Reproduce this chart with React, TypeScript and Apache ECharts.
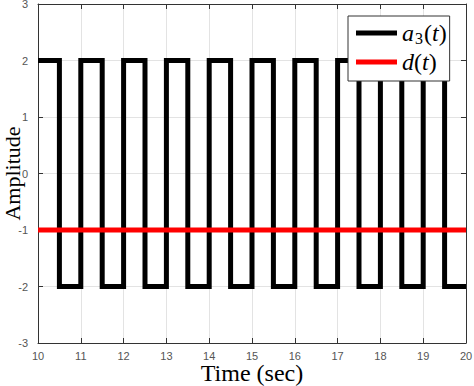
import React, { useEffect, useRef } from "react";
import * as echarts from "echarts";

// Square wave a3(t): switching instants and the level held from each instant
const a3Times = [10, 10.5, 11, 11.5, 12, 12.5, 13, 13.5, 14, 14.5, 15, 15.5, 16, 16.5, 17, 17.5, 18, 18.5, 19, 19.5, 20];
const a3Levels = [2, -2, 2, -2, 2, -2, 2, -2, 2, -2, 2, -2, 2, -2, 2, -2, 2, -2, 2, -2, -2];
// Constant d(t)
const dTimes = [10, 20];
const dLevels = [-1, -1];

const xTicks = [10, 11, 12, 13, 14, 15, 16, 17, 18, 19, 20];
const yTicks = [-3, -2, -1, 0, 1, 2, 3];

const serif = "Liberation Serif";
const sans = "Liberation Sans";

export default function App() {
  const ref = useRef<HTMLDivElement>(null);
  useEffect(() => {
    if (!ref.current) return;
    const chart = echarts.init(ref.current, null, { renderer: "svg" });
    const a3Data = a3Times.map((t, i) => [t, a3Levels[i]]);
    const dData = dTimes.map((t, i) => [t, dLevels[i]]);
    const axisColor = "#333333";
    const labelColor = "#555555";
    const gridColor = "#e3e3e3";
    const xMin = xTicks[0];
    const xMax = xTicks[xTicks.length - 1];
    const yMin = yTicks[0];
    const yMax = yTicks[yTicks.length - 1];
    const common = {
      axisLine: { show: true, onZero: false, lineStyle: { color: axisColor, width: 1 } },
      axisTick: { show: true, inside: true, length: 5, lineStyle: { color: axisColor } },
    };
    const fs = 24;
    chart.setOption({
      animation: false,
      backgroundColor: "#ffffff",
      grid: { left: 38, right: 8, top: 4, bottom: 43, containLabel: false, outerBoundsMode: "none" },
      xAxis: [
        {
          type: "value",
          min: xMin,
          max: xMax,
          interval: 1,
          ...common,
          axisLabel: { color: labelColor, fontSize: 11, lineHeight: 11, fontFamily: sans, margin: 7 },
          splitLine: { show: true, lineStyle: { color: gridColor, width: 1 } },
          name: "Time (sec)",
          nameLocation: "middle",
          nameGap: 19,
          nameMoveOverlap: false,
          nameTextStyle: { color: "#000", fontSize: 24, lineHeight: 22, fontFamily: serif, verticalAlign: "top" },
        },
        {
          type: "value",
          position: "top",
          min: xMin,
          max: xMax,
          interval: 1,
          ...common,
          axisLabel: { show: false },
          splitLine: { show: false },
        },
      ],
      yAxis: [
        {
          type: "value",
          min: yMin,
          max: yMax,
          interval: 1,
          ...common,
          axisLabel: { color: labelColor, fontSize: 11, fontFamily: sans, margin: 10 },
          splitLine: { show: true, lineStyle: { color: gridColor, width: 1 } },
          name: "Amplitude",
          nameLocation: "middle",
          nameGap: 16,
          nameMoveOverlap: false,
          nameTextStyle: { color: "#000", fontSize: 22, lineHeight: 20, fontFamily: serif },
        },
        {
          type: "value",
          position: "right",
          min: yMin,
          max: yMax,
          interval: 1,
          ...common,
          axisLabel: { show: false },
          splitLine: { show: false },
        },
      ],
      legend: {
        show: true,
        orient: "vertical",
        left: 348,
        top: 16,
        padding: [4, 3, 6, 8],
        itemGap: 3,
        itemWidth: 41,
        itemHeight: 5,
        icon: "rect",
        backgroundColor: "#ffffff",
        borderColor: "#333333",
        borderWidth: 1,
        borderRadius: 0,
        data: ["a3", "d"],
        formatter: (name: string) =>
          name === "a3" ? "{i|a}{s|3}{n|(}{i|t}{n|)}" : "{i|d}{n|(}{i|t}{n|)}",
        textStyle: {
          color: "#000",
          fontFamily: serif,
          fontSize: fs,
          lineHeight: 26,
          rich: {
            i: { fontStyle: "italic", fontFamily: serif, fontSize: fs, color: "#000", lineHeight: 26, verticalAlign: "middle" },
            n: { fontFamily: serif, fontSize: fs, color: "#000", lineHeight: 26, verticalAlign: "middle" },
            s: { fontFamily: serif, fontSize: 16, color: "#000", lineHeight: 26, verticalAlign: "bottom", padding: [0, 1, 0, 1] },
          },
        },
      },
      series: [
        {
          name: "a3",
          type: "line",
          step: "end",
          data: a3Data,
          showSymbol: false,
          symbol: "none",
          lineStyle: { color: "#000000", width: 5, join: "miter", cap: "butt" },
          itemStyle: { color: "#000000" },
          z: 2,
        },
        {
          name: "d",
          type: "line",
          data: dData,
          showSymbol: false,
          symbol: "none",
          lineStyle: { color: "#ff0000", width: 5 },
          itemStyle: { color: "#ff0000" },
          z: 3,
        },
      ],
    });
    return () => chart.dispose();
  }, []);
  return <div ref={ref} style={{ width: 474, height: 386, position: "fixed", left: 0, top: 0 }} />;
}
